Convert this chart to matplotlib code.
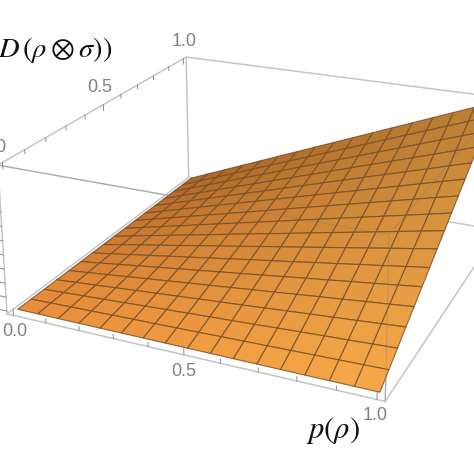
import numpy as np, matplotlib
matplotlib.use('Agg')
import matplotlib.pyplot as plt
from mpl_toolkits.mplot3d import Axes3D

p_values = [i / 16 for i in range(17)]
q_values = [j / 16 for j in range(17)]
D_values = [
 [0]*17,
 [0,.004,.008,.012,.016,.020,.023,.027,.031,.035,.039,.043,.047,.051,.055,.059,.063],
 [0,.008,.016,.023,.031,.039,.047,.055,.063,.070,.078,.086,.094,.102,.109,.117,.125],
 [0,.012,.023,.035,.047,.059,.070,.082,.094,.105,.117,.129,.141,.152,.164,.176,.188],
 [0,.016,.031,.047,.063,.078,.094,.109,.125,.141,.156,.172,.188,.203,.219,.234,.25],
 [0,.020,.039,.059,.078,.098,.117,.137,.156,.176,.195,.215,.234,.254,.273,.293,.313],
 [0,.023,.047,.070,.094,.117,.141,.164,.188,.211,.234,.258,.281,.305,.328,.352,.375],
 [0,.027,.055,.082,.109,.137,.164,.191,.219,.246,.273,.301,.328,.355,.383,.410,.438],
 [0,.031,.063,.094,.125,.156,.188,.219,.25,.281,.313,.344,.375,.406,.438,.469,.5],
 [0,.035,.070,.105,.141,.176,.211,.246,.281,.316,.352,.387,.422,.457,.492,.527,.563],
 [0,.039,.078,.117,.156,.195,.234,.273,.313,.352,.391,.430,.469,.508,.547,.586,.625],
 [0,.043,.086,.129,.172,.215,.258,.301,.344,.387,.430,.473,.516,.559,.602,.645,.688],
 [0,.047,.094,.141,.188,.234,.281,.328,.375,.422,.469,.516,.563,.609,.656,.703,.75],
 [0,.051,.102,.152,.203,.254,.305,.355,.406,.457,.508,.559,.609,.660,.711,.762,.813],
 [0,.055,.109,.164,.219,.273,.328,.383,.438,.492,.547,.602,.656,.711,.766,.820,.875],
 [0,.059,.117,.176,.234,.293,.352,.410,.469,.527,.586,.645,.703,.762,.820,.879,.938],
 [0,.063,.125,.188,.25,.313,.375,.438,.5,.563,.625,.688,.75,.813,.875,.938,1],
]
minor_ticks = [0, .1, .2, .3, .4, .5, .6, .7, .8, .9, 1.0]
tick_labels = ['0.0', '0.5', '1.0']

plt.rcParams['mathtext.fontset'] = 'stix'
fig = plt.figure(figsize=(4.74, 4.74), dpi=100)
ax = fig.add_axes([0, 0, 1, 1], projection='3d', computed_zorder=False)
ax.apply_aspect = lambda position=None: None
lo, hi = -0.02, 1.02
ax.set_xlim(lo, hi, view_margin=0); ax.set_ylim(lo, hi, view_margin=0); ax.set_zlim(lo, hi, view_margin=0)
ax.view_init(18.828, -65.774, 0.236)
ax.set_proj_type('persp', focal_length=0.447)
ax.set_box_aspect((1, 0.982, 0.318))
ax.set_axis_off()
vx, vy, vw, vh = ax.viewLim.bounds
sx, ox, sy, oy = 2849.56, 268.97, 3503.73, 474 - 200.33
ax.set_position([(ox + vx * sx) / 474, (oy + vy * sy) / 474, vw * sx / 474, vh * sy / 474])

GR = '#c4c5c9'
def edge(a, b, **k):
    ax.plot([a[0], b[0]], [a[1], b[1]], [a[2], b[2]], **k)
back = [((lo,lo,hi),(lo,hi,hi)), ((lo,hi,hi),(hi,hi,hi)), ((lo,lo,hi),(hi,lo,hi)), ((hi,lo,hi),(hi,hi,hi)),
        ((lo,lo,lo),(lo,lo,hi)), ((lo,hi,lo),(lo,hi,hi)), ((lo,lo,lo),(lo,hi,lo)), ((lo,hi,lo),(hi,hi,lo))]
for a, b in back:
    edge(a, b, color=GR, lw=1.1, zorder=1, solid_capstyle='round')
for a, b in [((hi,lo,lo),(hi,lo,hi))]:
    edge(a, b, color=GR, lw=1.1, zorder=1)

P, Q = np.meshgrid(p_values, q_values, indexing='ij')
Z = np.array(D_values)
pc = (P[:-1, :-1] + P[1:, 1:]) / 2; qc = (Q[:-1, :-1] + Q[1:, 1:]) / 2
rgba = np.ones(pc.shape + (4,))
rgba[..., 0] = (234 + 14 * pc - 62 * qc) / 255
rgba[..., 1] = (142 + 28 * pc - 42 * qc) / 255
rgba[..., 2] = (60 + 14 * pc - 20 * qc) / 255
ax.plot_surface(P, Q, Z, rstride=1, cstride=1, facecolors=rgba, shade=False,
                edgecolor=(0.47, 0.31, 0.14, 0.8), linewidth=0.85, zorder=2, antialiased=True)

# see-through box edges over the surface
for a, b in [((lo,lo,hi),(hi,lo,hi)), ((hi,lo,hi),(hi,hi,hi)), ((hi,lo,lo),(hi,lo,hi))]:
    edge(a, b, color='#8a7a60', lw=0.8, alpha=.35, zorder=3)
for a, b in [((lo,lo,lo),(hi,lo,lo)), ((hi,lo,lo),(hi,hi,lo))]:
    edge(a, b, color=GR, lw=1.1, zorder=3)

TC = '#8d8d8d'
for t in minor_ticks:
    major = abs(t * 2 - round(t * 2)) < 1e-9
    d = .045 if major else .028
    edge((t, lo, lo), (t, lo, lo + d), color=TC, lw=.7, zorder=4)
    edge((lo, t, hi), (lo, t, hi - d), color=TC, lw=.7, zorder=4)
    dx = .03 if major else .02
    edge((lo, lo, t), (lo - dx, lo, t), color=TC, lw=.7, zorder=4)

LC = '#828282'
font = dict(family='Liberation Sans', fontsize=13, color=LC, ha='center', va='center')
for s, (x, y) in zip(tick_labels, [(15, 332), (184, 372), (375, 415)]):
    fig.text(x / 474, 1 - y / 474, s, **font)
for s, (x, y) in zip(tick_labels, [(-6, 147), (100, 88), (184, 41)]):
    fig.text(x / 474, 1 - y / 474, s, **font)
fig.text(-2 / 474, 1 - 50 / 474, r'$D\,(\rho\otimes\sigma))$', fontsize=20.5, color='#111111', ha='left', va='center')
fig.text(306 / 474, 1 - 431 / 474, r'$p(\rho)$', fontsize=22, color='#111111', ha='left', va='center')
fig.savefig('out.png', dpi=100)
